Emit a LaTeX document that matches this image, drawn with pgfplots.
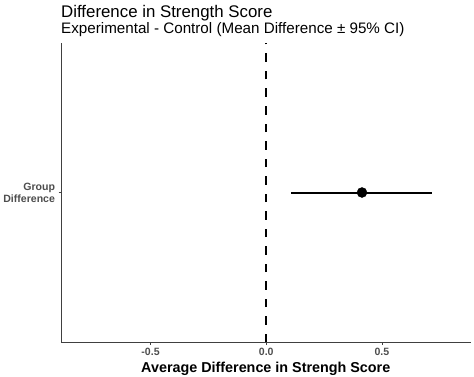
\documentclass[border=0pt]{standalone}
\usepackage{pgfplots}
\pgfplotsset{compat=1.18}
\usepackage{fontspec}
\setmainfont{Liberation Sans}
\definecolor{tickgray}{HTML}{4D4D4D}
\begin{document}
\begin{tikzpicture}[x=1bp,y=1bp]
\path[use as bounding box] (0,0) rectangle (474,376);
\begin{axis}[
 at={(61bp,34bp)}, anchor=south west,
 width=409.5bp, height=299bp, scale only axis,
 xmin=-0.887, xmax=0.883, ymin=0.4, ymax=1.6,
 axis x line*=bottom, axis y line*=left,
 axis line style={black!75, line width=0.8bp},
 xtick={-0.5,0,0.5}, xticklabels={-0.5,0.0,0.5},
 ytick={1}, yticklabels={Group\\Difference},
 yticklabel style={align=right, font=\bfseries\fontsize{10.6}{12}\selectfont, text=tickgray},
 xticklabel style={font=\bfseries\fontsize{10.6}{12}\selectfont, text=tickgray},
 tick style={black!75, line width=0.8bp},
 major tick length=2.5bp,
 tick align=outside,
 xlabel={Average Difference in Strengh Score},
 xlabel style={font=\bfseries\fontsize{14.4}{16}\selectfont},
 clip=false,
]
\addplot[black, line width=2.3bp, dash pattern=on 8.5bp off 9bp] coordinates {(0,0.4)(0,1.6)};
\addplot[black, line width=2bp] coordinates {(0.108,1)(0.717,1)};
\addplot[only marks, mark=*, mark size=5bp, black] coordinates {(0.414,1)};
\end{axis}
\node[anchor=base west, inner sep=0, font=\fontsize{16.9}{20}\selectfont] at (61,359) {Difference in Strength Score};
\node[anchor=base west, inner sep=0, font=\fontsize{15.25}{18}\selectfont] at (61,342.5) {Experimental - Control (Mean Difference ± 95\% CI)};
\end{tikzpicture}
\end{document}
